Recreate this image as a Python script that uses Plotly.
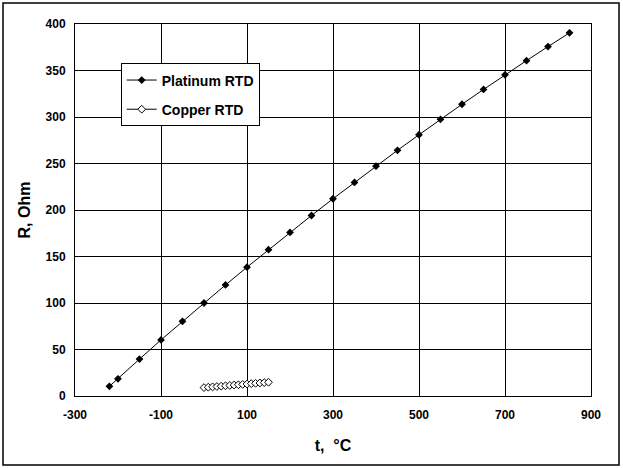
import plotly.graph_objects as go

# Platinum RTD (Pt100) readings
pt_temp = [-220, -200, -150, -100, -50, 0, 50, 100, 150, 200, 250, 300,
           350, 400, 450, 500, 550, 600, 650, 700, 750, 800, 850]
pt_ohm = [10.4, 18.5, 39.7, 60.3, 80.3, 100.0, 119.4, 138.5, 157.3, 175.9,
          194.1, 212.1, 229.7, 247.1, 264.2, 280.9, 297.5, 313.7, 329.6,
          345.3, 360.6, 375.7, 390.5]

# Copper RTD readings
cu_temp = [0, 10, 20, 30, 40, 50, 60, 70, 80, 90, 100, 110, 120, 130, 140, 150]
cu_ohm = [9.04, 9.43, 9.81, 10.19, 10.58, 10.96, 11.34, 11.73, 12.11, 12.50,
          12.88, 13.27, 13.65, 14.04, 14.42, 14.81]

x_ticks = [-300, -100, 100, 300, 500, 700, 900]
x_labels = ["-300", "-100", "100", "300", "500", "700", "900"]

font_main = "Arial, Liberation Sans, sans-serif"

fig = go.Figure()

fig.add_trace(go.Scatter(
    x=pt_temp, y=pt_ohm,
    name="Platinum RTD",
    legendgroup="pt",
    mode="lines+markers",
    line=dict(color="black", width=1),
    marker=dict(symbol="diamond", size=6, color="black"),
))

fig.add_trace(go.Scatter(
    x=cu_temp, y=cu_ohm,
    name="Copper RTD",
    legendgroup="cu",
    mode="lines+markers",
    line=dict(color="black", width=1),
    marker=dict(symbol="diamond", size=6, color="white",
                line=dict(color="black", width=1)),
))

# outer chart frame
fig.add_shape(
    type="rect", xref="paper", yref="paper",
    x0=-0.1395, x1=1.0543, y0=-0.1855, y1=1.0565,
    line=dict(color="black", width=1.5),
    layer="below",
)

fig.update_layout(
    width=623, height=468,
    margin=dict(l=75, r=32, t=24, b=72),
    paper_bgcolor="white",
    plot_bgcolor="white",
    font=dict(family=font_main, color="black"),
    legend=dict(
        x=0.0886, y=0.894, xanchor="left", yanchor="top",
        bgcolor="white", bordercolor="black", borderwidth=1,
        font=dict(size=14, family=font_main, weight="bold"),
        tracegroupgap=8,
        itemwidth=30,
    ),
    showlegend=True,
)

fig.update_xaxes(
    range=[-300, 900],
    tickvals=x_ticks, ticktext=x_labels,
    showgrid=True, gridcolor="black", gridwidth=1,
    showline=True, linecolor="black", linewidth=1, mirror=True,
    zeroline=False,
    ticks="",
    ticklabelstandoff=8,
    tickfont=dict(size=12, family=font_main, weight="bold"),
    title=dict(text="t,  °C", font=dict(size=16, family=font_main, weight="bold"), standoff=18),
)
fig.update_yaxes(
    range=[0, 400],
    dtick=50,
    showgrid=True, gridcolor="black", gridwidth=1,
    showline=True, linecolor="black", linewidth=1, mirror=True,
    zeroline=False,
    ticks="",
    ticklabelstandoff=6,
    tickfont=dict(size=12, family=font_main, weight="bold"),
    title=dict(text="R, Ohm", font=dict(size=16, family=font_main, weight="bold"), standoff=10),
)

fig.write_html("out.html", config={"displayModeBar": False},
               post_script="document.body.style.margin='0';")
